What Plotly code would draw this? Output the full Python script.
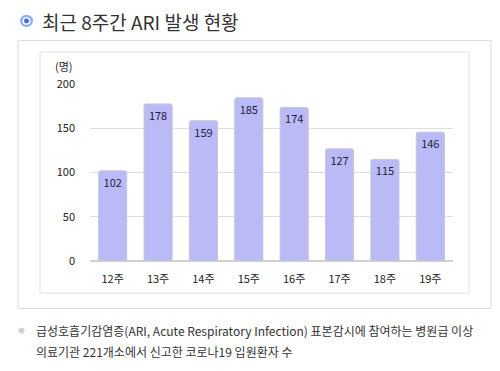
import plotly.graph_objects as go

weeks = ["12주", "13주", "14주", "15주", "16주", "17주", "18주", "19주"]
patients = [102, 178, 159, 185, 174, 127, 115, 146]
y_ticks = [0, 50, 100, 150, 200]

W, H = 500, 371
def px(x):
    return x / W
def py(y):
    return 1 - y / H

FONT = "Noto Sans CJK KR, Malgun Gothic, sans-serif"

fig = go.Figure()
fig.add_trace(go.Bar(
    x=weeks, y=patients,
    marker=dict(color="#babaf7", line=dict(color="#c6c6d4", width=1), cornerradius=2),
    width=0.62,
    text=[str(v) for v in patients],
    textposition="inside", insidetextanchor="end",
    textfont=dict(size=11, color="#1e1e40", family=FONT),
    cliponaxis=False,
    hoverinfo="skip",
))

shapes = [
    dict(type="rect", xref="paper", yref="paper", x0=px(18), x1=px(491), y0=py(313), y1=py(33),
         line=dict(color="#dcdcdc", width=1), fillcolor="rgba(0,0,0,0)", layer="below"),
    dict(type="rect", xref="paper", yref="paper", x0=px(40), x1=px(469), y0=py(297), y1=py(45),
         line=dict(color="#e2e2e2", width=1), fillcolor="rgba(0,0,0,0)", layer="below"),
    # title icon
    dict(type="circle", xref="paper", yref="paper", x0=px(20), x1=px(33), y0=py(19), y1=py(6),
         fillcolor="#8eb0f2", line=dict(width=0)),
    dict(type="circle", xref="paper", yref="paper", x0=px(22.5), x1=px(30.5), y0=py(16.5), y1=py(8.5),
         fillcolor="#ffffff", line=dict(width=0)),
    dict(type="circle", xref="paper", yref="paper", x0=px(24), x1=px(29), y0=py(15), y1=py(10),
         fillcolor="#3a6fd8", line=dict(width=0)),
    # footnote bullet
    dict(type="circle", xref="paper", yref="paper", x0=px(18.5), x1=px(24.5), y0=py(339), y1=py(333),
         fillcolor="#cfcfcf", line=dict(width=0)),
]

annotations = [
    dict(text="최근 8주간 ARI 발생 현황", xref="paper", yref="paper", x=px(40), y=py(13),
         xanchor="left", yanchor="middle", showarrow=False,
         font=dict(size=19, color="#333333", family=FONT)),
    dict(text="(명)", xref="paper", yref="paper", x=px(64), y=py(60),
         xanchor="center", yanchor="middle", showarrow=False,
         font=dict(size=11, color="#222222", family=FONT)),
    dict(text="급성호흡기감염증(ARI, Acute Respiratory Infection) 표본감시에 참여하는 병원급 이상",
         xref="paper", yref="paper", x=px(34), y=py(336),
         xanchor="left", yanchor="middle", showarrow=False,
         font=dict(size=12, color="#333333", family=FONT)),
    dict(text="의료기관 221개소에서 신고한 코로나19 입원환자 수",
         xref="paper", yref="paper", x=px(34), y=py(358),
         xanchor="left", yanchor="middle", showarrow=False,
         font=dict(size=12, color="#333333", family=FONT)),
]

fig.update_layout(
    width=W, height=H,
    margin=dict(l=0, r=0, t=0, b=0),
    paper_bgcolor="white", plot_bgcolor="white",
    showlegend=False,
    shapes=shapes, annotations=annotations,
    xaxis=dict(domain=[px(90), px(453)], showgrid=False, showline=False, zeroline=False,
               ticks="", tickfont=dict(size=11, color="#222222", family=FONT), ticklabelstandoff=10,
               fixedrange=True),
    yaxis=dict(domain=[py(263), py(79)], range=[0, 200], tickvals=y_ticks,
               showgrid=True, gridcolor="#dedede", gridwidth=1,
               zeroline=True, zerolinecolor="#d0d0d0", zerolinewidth=1.5,
               showline=False, ticks="", ticklabelstandoff=14,
               tickfont=dict(size=11, color="#222222", family=FONT), fixedrange=True),
    bargap=0.38,
)

fig.write_html("out.html", config={"displayModeBar": False},
               post_script="document.body.style.margin='0';document.body.style.overflow='hidden';")
